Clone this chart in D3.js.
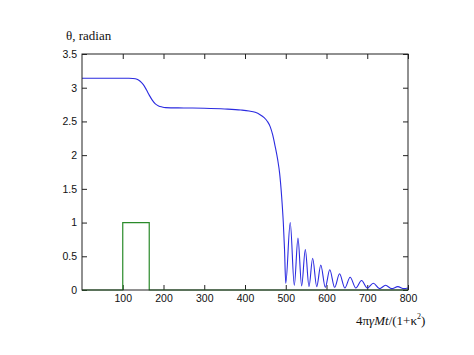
<!DOCTYPE html>
<html><head><meta charset="utf-8">
<script src="https://cdn.jsdelivr.net/npm/d3@7"></script>
<style>body{margin:0;background:#fff}svg{display:block}</style>
</head><body>
<svg id="c" width="474" height="355"></svg>
<script>
// Data
const xTicks = [100, 200, 300, 400, 500, 600, 700, 800];
const yTicks = [0, 0.5, 1, 1.5, 2, 2.5, 3, 3.5];
const thetaX = [0, 115, 125, 135, 142, 150, 158, 165, 172, 180, 188, 196, 205, 250, 300, 350, 390, 410, 425, 437, 447, 455, 462, 468, 474, 480, 485, 490, 494, 497, 500,
  511, 521, 530, 539, 548, 557, 566, 576, 586, 597, 608, 620, 632, 645, 658, 672, 686, 700, 715, 730, 745, 760, 775, 790, 800];
const thetaY = [3.14, 3.14, 3.137, 3.125, 3.10, 3.05, 2.97, 2.89, 2.82, 2.76, 2.73, 2.715, 2.705, 2.70, 2.695, 2.685, 2.67, 2.655, 2.635, 2.60, 2.555, 2.50, 2.42, 2.30, 2.13, 1.94, 1.73, 1.38, 1.0, 0.6, 0.1,
  1.0, 0.07, 0.77, 0.06, 0.6, 0.05, 0.47, 0.05, 0.37, 0.04, 0.3, 0.04, 0.24, 0.03, 0.19, 0.03, 0.14, 0.03, 0.1, 0.02, 0.07, 0.02, 0.05, 0.02, 0.03];
const pulseX = [0, 100, 100, 165, 165, 800];
const pulseY = [0, 0, 1, 1, 0, 0];

const W = 474, H = 355;
const m = {left: 82, right: 66, top: 54, bottom: 65};
const svg = d3.select('#c');
const x = d3.scaleLinear().domain([0, 800]).range([m.left, W - m.right]);
const y = d3.scaleLinear().domain([0, 3.5]).range([H - m.bottom, m.top]);

const axisColor = '#222';
const tickFont = 'Arial, "Liberation Sans", sans-serif';

function styleAxis(g) {
  g.select('.domain').remove();
  g.selectAll('.tick line').attr('stroke', axisColor);
  g.selectAll('.tick text').attr('fill', '#111').style('font-family', tickFont).style('font-size', '10.5px');
}

svg.append('g').attr('transform', `translate(0,${y(0)})`)
  .call(d3.axisBottom(x).tickValues(xTicks).tickSize(-5).tickPadding(5).tickFormat(d3.format('d')))
  .call(styleAxis);
svg.append('g').attr('transform', `translate(0,${y(3.5)})`)
  .call(d3.axisTop(x).tickValues(xTicks).tickSize(-5).tickFormat(''))
  .call(styleAxis);
svg.append('g').attr('transform', `translate(${x(0)},0)`)
  .call(d3.axisLeft(y).tickValues(yTicks).tickSize(-5).tickPadding(5).tickFormat(d => d))
  .call(styleAxis);
svg.append('g').attr('transform', `translate(${x(800)},0)`)
  .call(d3.axisRight(y).tickValues(yTicks).tickSize(-5).tickFormat(''))
  .call(styleAxis);

const pulse = pulseX.map((v, i) => [v, pulseY[i]]);
svg.append('path').datum(pulse)
  .attr('fill', 'none').attr('stroke', '#2a8a2a').attr('stroke-width', 1.2)
  .attr('d', d3.line().x(d => x(d[0])).y(d => y(d[1])));

const theta = thetaX.map((v, i) => [v, thetaY[i]]);
svg.append('path').datum(theta)
  .attr('fill', 'none').attr('stroke', '#2b2be0').attr('stroke-width', 1.1)
  .attr('d', d3.line().x(d => x(d[0])).y(d => y(d[1])).curve(d3.curveMonotoneX));

// frame
svg.append('rect').attr('x', x(0)).attr('y', y(3.5))
  .attr('width', x(800) - x(0)).attr('height', y(0) - y(3.5))
  .attr('fill', 'none').attr('stroke', axisColor).attr('stroke-width', 1);

const serif = '"Liberation Serif", "DejaVu Serif", serif';
svg.append('text').attr('x', 66).attr('y', 40)
  .style('font-family', serif).style('font-size', '13px').attr('fill', '#111')
  .text('θ, radian');

const xl = svg.append('text').attr('x', 356).attr('y', 325)
  .style('font-family', serif).style('font-size', '13px').attr('fill', '#111');
xl.append('tspan').text('4π');
xl.append('tspan').style('font-style', 'italic').text('γMt');
xl.append('tspan').text('/(1+κ');
xl.append('tspan').attr('dy', -6).style('font-size', '8px').text('2');
xl.append('tspan').attr('dy', 6).text(')');
</script>
</body></html>
